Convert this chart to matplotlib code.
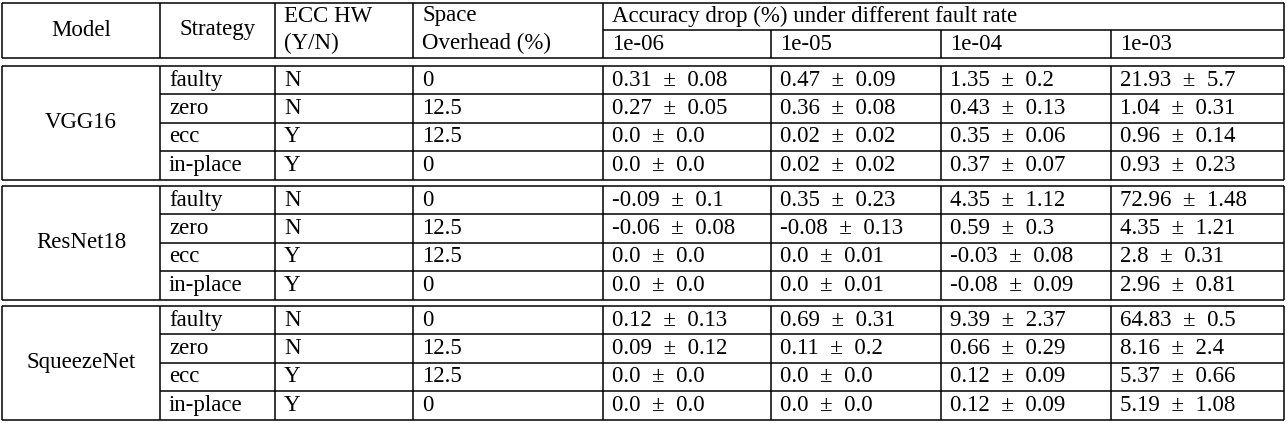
import matplotlib.pyplot as plt

models = ["VGG16", "ResNet18", "SqueezeNet"]
strategies = ["faulty", "zero", "ecc", "in-place"]
ecc_hw = ["N", "N", "Y", "Y"]
overhead = ["0", "12.5", "12.5", "0"]
fault_rates = ["1e-06", "1e-05", "1e-04", "1e-03"]
acc_drop = {
    "VGG16": [
        ["0.31 ± 0.08", "0.47 ± 0.09", "1.35 ± 0.2", "21.93 ± 5.7"],
        ["0.27 ± 0.05", "0.36 ± 0.08", "0.43 ± 0.13", "1.04 ± 0.31"],
        ["0.0 ± 0.0", "0.02 ± 0.02", "0.35 ± 0.06", "0.96 ± 0.14"],
        ["0.0 ± 0.0", "0.02 ± 0.02", "0.37 ± 0.07", "0.93 ± 0.23"],
    ],
    "ResNet18": [
        ["-0.09 ± 0.1", "0.35 ± 0.23", "4.35 ± 1.12", "72.96 ± 1.48"],
        ["-0.06 ± 0.08", "-0.08 ± 0.13", "0.59 ± 0.3", "4.35 ± 1.21"],
        ["0.0 ± 0.0", "0.0 ± 0.01", "-0.03 ± 0.08", "2.8 ± 0.31"],
        ["0.0 ± 0.0", "0.0 ± 0.01", "-0.08 ± 0.09", "2.96 ± 0.81"],
    ],
    "SqueezeNet": [
        ["0.12 ± 0.13", "0.69 ± 0.31", "9.39 ± 2.37", "64.83 ± 0.5"],
        ["0.09 ± 0.12", "0.11 ± 0.2", "0.66 ± 0.29", "8.16 ± 2.4"],
        ["0.0 ± 0.0", "0.0 ± 0.0", "0.12 ± 0.09", "5.37 ± 0.66"],
        ["0.0 ± 0.0", "0.0 ± 0.0", "0.12 ± 0.09", "5.19 ± 1.08"],
    ],
}

W, H = 1287, 423
fig = plt.figure(figsize=(W / 100, H / 100), dpi=100)
ax = fig.add_axes([0, 0, 1, 1])
ax.set_xlim(0, W)
ax.set_ylim(H, 0)
ax.axis("off")

fs = 16.5
lw = 1.1
cols = [2, 160, 275, 413, 603, 771, 941, 1111, 1284]
pad = 9

def hline(y, x0=cols[0], x1=cols[-1]):
    ax.plot([x0, x1], [y, y], color="black", lw=lw, solid_capstyle="butt")

def vline(x, y0, y1):
    ax.plot([x, x], [y0, y1], color="black", lw=lw, solid_capstyle="butt")

def txt(x, y, s, ha="left"):
    # wider gaps around the plus-minus sign, as in the LaTeX original
    s = s.replace(" ± ", "\u2002±\u2002")
    ax.text(x, y, s, ha=ha, va="center", fontsize=fs, family=["Liberation Serif", "DejaVu Serif"])

# header
h0, hm, h1 = 3, 30, 58
hline(h0)
hline(h1)
hline(hm, cols[4], cols[-1])
for x in cols[:5] + [cols[-1]]:
    vline(x, h0, h1)
for x in cols[5:8]:
    vline(x, hm, h1)
txt((cols[0] + cols[1]) / 2, 30, "Model", "center")
txt((cols[1] + cols[2]) / 2, 30, "Strategy", "center")
txt(cols[2] + pad, 16, "ECC HW")
txt(cols[2] + pad, 43, "(Y/N)")
txt(cols[3] + pad, 16, "Space")
txt(cols[3] + pad, 43, "Overhead (%)")
txt(cols[4] + pad, 16, "Accuracy drop (%) under different fault rate")
for j, fr in enumerate(fault_rates):
    txt(cols[4 + j] + pad, 44, fr)

group_tops = [66, 186, 306]
row_h = 28.4
for g, model in enumerate(models):
    top = group_tops[g]
    bot = top + 4 * row_h
    hline(top)
    hline(bot)
    for r in range(1, 4):
        hline(top + r * row_h, cols[1], cols[-1])
    for x in cols:
        vline(x, top, bot)
    txt((cols[0] + cols[1]) / 2, (top + bot) / 2, model, "center")
    for r, strat in enumerate(strategies):
        yc = top + (r + 0.5) * row_h
        txt(cols[1] + pad, yc, strat)
        txt(cols[2] + pad, yc, ecc_hw[r])
        txt(cols[3] + pad, yc, overhead[r])
        for j, val in enumerate(acc_drop[model][r]):
            txt(cols[4 + j] + pad, yc, val)

fig.savefig("out.png", dpi=100)
